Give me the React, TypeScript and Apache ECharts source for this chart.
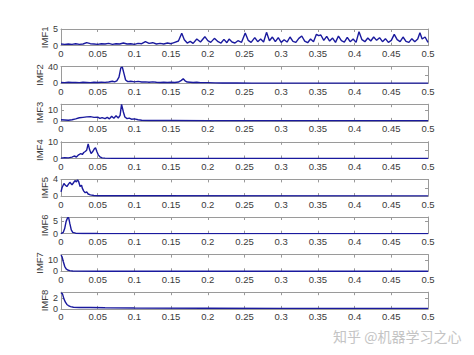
import React, { useEffect, useRef } from "react";
import * as echarts from "echarts";

const imfNames = ["IMF1", "IMF2", "IMF3", "IMF4", "IMF5", "IMF6", "IMF7", "IMF8"];

const xTickValues = [0, 0.05, 0.1, 0.15, 0.2, 0.25, 0.3, 0.35, 0.4, 0.45, 0.5];

const imf1: [number, number][] = [
  [0, 0.5], [0.005, 0.4], [0.01, 0.5], [0.015, 0.4], [0.02, 0.6], [0.025, 0.4], [0.03, 0.5],
  [0.035, 0.9], [0.04, 0.6], [0.045, 0.5], [0.05, 0.4], [0.055, 0.6], [0.06, 0.5], [0.065, 0.7],
  [0.07, 0.4], [0.075, 0.6], [0.08, 0.5], [0.085, 0.8], [0.09, 0.5], [0.095, 0.6], [0.1, 0.4],
  [0.105, 0.7], [0.11, 0.6], [0.115, 1.2], [0.12, 0.7], [0.125, 0.9], [0.13, 0.5], [0.135, 0.7],
  [0.14, 0.5], [0.145, 0.8], [0.15, 0.6], [0.155, 1.0], [0.16, 1.4], [0.1645, 3.7], [0.168, 1.8],
  [0.172, 0.8], [0.176, 1.3], [0.18, 0.7], [0.185, 2.0], [0.19, 1.1], [0.196, 2.7], [0.2, 1.5],
  [0.204, 1.0], [0.209, 2.2], [0.214, 1.2], [0.218, 0.8], [0.222, 1.9], [0.226, 0.9], [0.229, 2.0],
  [0.233, 1.1], [0.237, 0.8], [0.241, 1.5], [0.246, 1.0], [0.251, 3.8], [0.255, 1.6], [0.259, 1.0],
  [0.264, 2.4], [0.268, 1.2], [0.272, 2.0], [0.276, 1.1], [0.28, 4.0], [0.284, 1.5], [0.288, 2.6],
  [0.292, 1.2], [0.296, 2.4], [0.3, 1.0], [0.304, 1.8], [0.308, 1.1], [0.312, 2.6], [0.316, 1.3],
  [0.32, 1.0], [0.324, 2.2], [0.328, 2.9], [0.332, 1.4], [0.336, 0.9], [0.34, 2.0], [0.344, 1.2],
  [0.348, 3.4], [0.351, 3.0], [0.354, 3.2], [0.358, 1.6], [0.362, 2.8], [0.366, 1.4], [0.37, 2.3],
  [0.374, 1.0], [0.378, 2.9], [0.382, 1.5], [0.386, 1.1], [0.39, 2.5], [0.394, 1.2], [0.398, 2.0],
  [0.402, 1.0], [0.406, 4.2], [0.41, 1.8], [0.414, 1.2], [0.418, 2.3], [0.422, 1.4], [0.426, 2.6],
  [0.43, 1.6], [0.434, 2.4], [0.438, 1.2], [0.442, 2.1], [0.446, 1.0], [0.45, 1.6], [0.454, 3.4],
  [0.458, 1.8], [0.462, 1.2], [0.466, 2.6], [0.47, 1.3], [0.474, 1.0], [0.478, 2.1], [0.482, 1.2],
  [0.486, 2.0], [0.489, 3.9], [0.492, 2.0], [0.496, 2.6], [0.5, 1.0],
];

const imf2: [number, number][] = [
  [0, 2.0], [0.005, 1.5], [0.01, 2.5], [0.015, 1.8], [0.02, 2.2], [0.025, 1.5], [0.03, 2.4],
  [0.035, 2.0], [0.04, 1.6], [0.045, 2.4], [0.05, 2.0], [0.055, 2.6], [0.06, 2.2], [0.065, 3.0],
  [0.07, 5.0], [0.073, 3.5], [0.076, 6.0], [0.079, 15], [0.0815, 37], [0.0835, 39], [0.086, 22],
  [0.088, 8], [0.091, 4], [0.095, 5], [0.1, 3.5], [0.105, 4.5], [0.11, 3.0], [0.115, 3.5],
  [0.12, 2.5], [0.125, 3.5], [0.13, 2.5], [0.135, 2.0], [0.14, 2.5], [0.145, 2.0], [0.15, 2.5],
  [0.155, 2.0], [0.16, 3.0], [0.164, 7], [0.1665, 11], [0.169, 6], [0.172, 3], [0.176, 2.5],
  [0.18, 2.0], [0.185, 2.5], [0.19, 1.5], [0.2, 1.5], [0.21, 1.0], [0.22, 0.8], [0.24, 0.6],
  [0.26, 0.5], [0.3, 0.4], [0.35, 0.4], [0.4, 0.4], [0.45, 0.3], [0.5, 0.3],
];

const imf3: [number, number][] = [
  [0, 1.0], [0.005, 0.8], [0.01, 0.6], [0.015, 1.0], [0.02, 1.8], [0.025, 2.8], [0.03, 3.2],
  [0.035, 3.6], [0.04, 3.8], [0.045, 3.2], [0.05, 3.4], [0.053, 2.2], [0.056, 3.0], [0.06, 2.0],
  [0.063, 3.2], [0.066, 1.8], [0.069, 4.2], [0.072, 2.4], [0.075, 4.6], [0.078, 2.6], [0.0805, 5.0],
  [0.0825, 14.8], [0.085, 8], [0.087, 3.5], [0.09, 2.0], [0.093, 2.5], [0.096, 1.5], [0.1, 1.8],
  [0.105, 1.0], [0.11, 0.6], [0.12, 0.4], [0.15, 0.3], [0.2, 0.2], [0.3, 0.15], [0.4, 0.1], [0.5, 0.1],
];

const imf4: [number, number][] = [
  [0, 0.2], [0.005, 0.5], [0.01, 0.4], [0.015, 0.8], [0.018, 1.5], [0.021, 0.9], [0.024, 2.2],
  [0.027, 3.0], [0.029, 2.4], [0.031, 3.6], [0.033, 4.2], [0.035, 5.0], [0.037, 8.8], [0.039, 5.2],
  [0.041, 3.0], [0.043, 4.0], [0.045, 5.5], [0.047, 6.5], [0.049, 4.0], [0.051, 2.0], [0.053, 1.0],
  [0.056, 0.4], [0.06, 0.2], [0.07, 0.1], [0.1, 0.05], [0.5, 0.05],
];

const imf5: [number, number][] = [
  [0, 1.0], [0.0014, 2.0], [0.004, 3.0], [0.006, 2.6], [0.008, 2.3], [0.01, 2.8], [0.012, 3.3],
  [0.015, 2.7], [0.017, 3.2], [0.019, 3.7], [0.021, 3.4], [0.0225, 3.9], [0.024, 3.5], [0.026, 2.3],
  [0.028, 2.6], [0.029, 1.9], [0.031, 1.2], [0.033, 0.8], [0.035, 1.0], [0.037, 0.5], [0.04, 0.3],
  [0.045, 0.15], [0.05, 0.1], [0.1, 0.08], [0.5, 0.05],
];

const imf6: [number, number][] = [
  [0, 0.0], [0.003, 0.5], [0.005, 2.0], [0.007, 4.8], [0.009, 6.2], [0.0105, 6.2], [0.012, 4.0],
  [0.014, 1.5], [0.016, 0.5], [0.02, 0.2], [0.03, 0.1], [0.05, 0.05], [0.5, 0.03],
];

const imf7: [number, number][] = [
  [0, 14.5], [0.0015, 13], [0.003, 9], [0.005, 4.5], [0.007, 2.2], [0.009, 1.2], [0.012, 0.6],
  [0.016, 0.3], [0.02, 0.2], [0.05, 0.1], [0.5, 0.05],
];

const imf8: [number, number][] = [
  [0, 2.9], [0.002, 2.7], [0.004, 1.8], [0.006, 1.2], [0.008, 0.8], [0.01, 0.6], [0.013, 0.4],
  [0.017, 0.3], [0.025, 0.25], [0.04, 0.25], [0.06, 0.2], [0.1, 0.15], [0.2, 0.12], [0.3, 0.1],
  [0.5, 0.1],
];

const imfData = [imf1, imf2, imf3, imf4, imf5, imf6, imf7, imf8];

const yMaxes = [5, 40, 15, 10, 4, 6.5, 15, 3];
const yIntervals = [5, 20, 10, 5, 2, 5, 10, 2];
const yTickLabels = [[0, 5], [0, 20, 40], [0, 10], [0, 5, 10], [0, 2, 4], [0, 5], [0, 10], [0, 2]];

const watermark = "知乎 @机器学习之心";

export default function App() {
  const ref = useRef<HTMLDivElement>(null);

  useEffect(() => {
    if (!ref.current) return;
    const chart = echarts.init(ref.current, undefined, { renderer: "svg" });

    const axisColor = "#9a9a9a";
    const textColor = "#3a3a3a";
    const font = "Liberation Sans, Arial, sans-serif";
    const gridTop0 = 29;
    const gridStep = 37.6;
    const gridH = 16.7;

    const grids: any[] = [];
    const xAxes: any[] = [];
    const yAxes: any[] = [];
    const series: any[] = [];

    imfNames.forEach((name, i) => {
      grids.push({
        left: 61,
        width: 367,
        top: gridTop0 + gridStep * i,
        height: gridH,
        outerBoundsMode: "none",
      });
      const baseX = {
        type: "value",
        gridIndex: i,
        min: 0,
        max: 0.5,
        interval: 0.05,
        splitLine: { show: false },
        axisLine: { show: true, onZero: false, lineStyle: { color: axisColor, width: 1 } },
        axisTick: { show: true, inside: true, length: 3, lineStyle: { color: axisColor } },
      };
      xAxes.push({
        ...baseX,
        position: "bottom",
        axisLabel: {
          show: true,
          interval: 0,
          hideOverlap: false,
          margin: 3,
          color: textColor,
          fontSize: 9.5,
          fontFamily: font,
          formatter: (v: number) => {
            const m = xTickValues.find((t) => Math.abs(t - v) < 1e-9);
            return m === undefined ? "" : String(m);
          },
        },
      });
      xAxes.push({ ...baseX, position: "top", axisLabel: { show: false } });

      const labels = yTickLabels[i];
      const maxLen = Math.max(...labels.map((l) => String(l).length));
      const baseY = {
        type: "value",
        gridIndex: i,
        min: 0,
        max: yMaxes[i],
        interval: yIntervals[i],
        splitLine: { show: false },
        axisLine: { show: true, onZero: false, lineStyle: { color: axisColor, width: 1 } },
        axisTick: { show: true, inside: true, length: 3, lineStyle: { color: axisColor } },
      };
      yAxes.push({
        ...baseY,
        position: "left",
        name,
        nameLocation: "middle",
        nameRotate: 90,
        nameGap: maxLen > 1 ? 16.5 : 12,
        nameMoveOverlap: false,
        nameTextStyle: { color: textColor, fontSize: 9.5, fontFamily: font },
        axisLabel: {
          show: true,
          interval: 0,
          hideOverlap: false,
          showMinLabel: true,
          showMaxLabel: true,
          margin: 3,
          color: textColor,
          fontSize: 9,
          lineHeight: 9,
          fontFamily: font,
          formatter: (v: number) => (labels.some((l) => Math.abs(l - v) < 1e-9) ? String(v) : ""),
        },
      });
      yAxes.push({ ...baseY, position: "right", axisLabel: { show: false } });

      series.push({
        type: "line",
        xAxisIndex: i * 2,
        yAxisIndex: i * 2,
        data: imfData[i],
        showSymbol: false,
        symbol: "none",
        lineStyle: { color: "#1a1a9e", width: 1.4 },
        clip: true,
      });
    });

    chart.setOption({
      animation: false,
      backgroundColor: "#ffffff",
      grid: grids,
      xAxis: xAxes,
      yAxis: yAxes,
      series,
      graphic: [
        {
          type: "text",
          left: 333,
          top: 329,
          style: {
            text: watermark,
            fill: "#c4c4c4",
            fontSize: 14,
            fontFamily: "Noto Sans CJK SC, sans-serif",
          },
        },
      ],
    });

    return () => chart.dispose();
  }, []);

  return (
    <div
      ref={ref}
      style={{ position: "fixed", left: 0, top: 0, width: 474, height: 355 }}
    />
  );
}
